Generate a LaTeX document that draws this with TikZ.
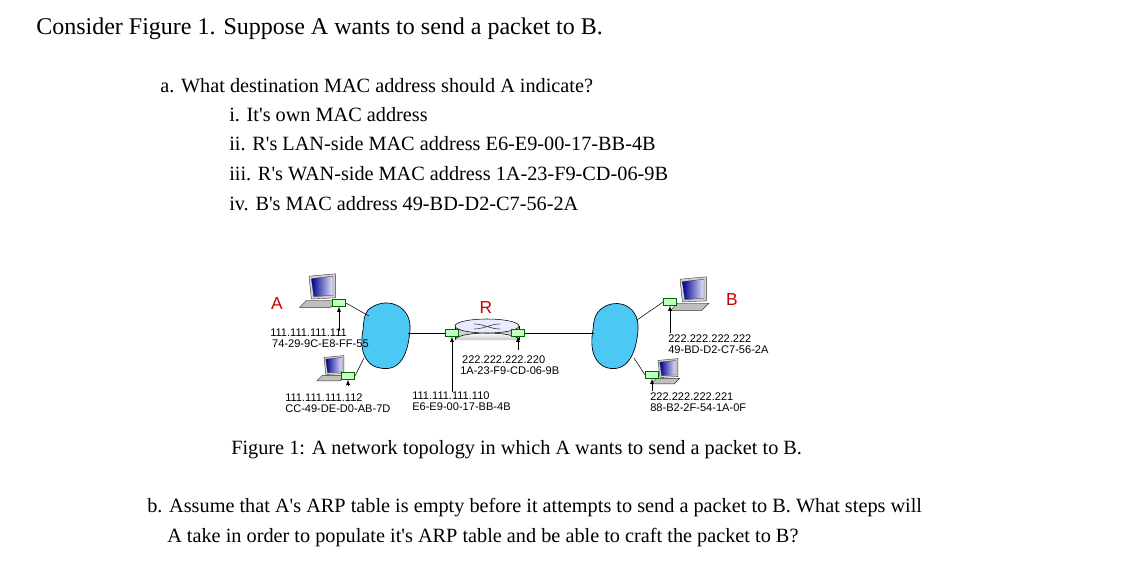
\documentclass[tikz,border=0pt]{standalone}
\usepackage{fontspec}
\setmainfont{Liberation Serif}
\newfontfamily\lab{Liberation Sans}
\newcommand{\ap}{\textquotesingle}
\definecolor{cloudc}{HTML}{4CC8F4}
\begin{document}
\begin{tikzpicture}[x=0.75pt,y=-0.75pt,
  txt/.style={anchor=west,inner sep=0pt,font=\fontsize{15.2}{17}\selectfont},
  small/.style={anchor=west,inner sep=0pt,font=\lab\fontsize{8.3}{8.6}\selectfont,align=left},
  cloud/.style={fill=cloudc,draw=black,line width=0.5pt},
  iface/.style={draw=green!40!black,fill=green!25,minimum width=10pt,minimum height=5pt,inner sep=0pt},
  lbl/.style={text=red!80!black,font=\lab\fontsize{13}{14}\selectfont},
  arr/.style={-latex,line width=0.4pt}]
\useasboundingbox (0,0) rectangle (1131,571);
\fill[white] (0,0) rectangle (1131,571);
\node[txt,font=\fontsize{18}{20}\selectfont] (t0) at (36,29) {Consider Figure 1. Suppose A wants to send a packet to B.};
\node[txt] (ta) at (160,86) {a. What destination MAC address should A indicate?};
\node[txt] (t1) at (229,115) {i. It\ap s own MAC address};
\node[txt] (t2) at (229,144) {ii. R\ap s LAN-side MAC address E6-E9-00-17-BB-4B};
\node[txt] (t3) at (229,174) {iii. R\ap s WAN-side MAC address 1A-23-F9-CD-06-9B};
\node[txt] (t4) at (229,204) {iv. B\ap s MAC address 49-BD-D2-C7-56-2A};
\node[txt] (cap) at (231,450) {Figure 1: A network topology in which A wants to send a packet to B.};
\node[txt] (tb) at (147,508) {b. Assume that A\ap s ARP table is empty before it attempts to send a packet to B. What steps will};
\node[txt] (tb2) at (167,538) {A take in order to populate it\ap s ARP table and be able to craft the packet to B?};
% clouds
\draw[cloud] (368,310) .. controls (385,295) and (412,305) .. (410,330) .. controls (408,355) and (400,372) .. (380,368) .. controls (362,365) and (360,345) .. (363,330) .. controls (364,320) and (364,315) .. (368,310) -- cycle;
\draw[cloud] (598,312) .. controls (612,296) and (640,303) .. (638,330) .. controls (636,356) and (626,372) .. (608,368) .. controls (592,364) and (590,345) .. (593,330) .. controls (594,320) and (594,318) .. (598,312) -- cycle;
% computers
\newcommand{\laptop}[3]{%
  \begin{scope}[shift={(#1,#2)},scale=#3]
  \fill[gray!50,draw=gray!40!black,line width=0.3pt] (-12,6) -- (14,6) -- (8,12) -- (-18,12) -- cycle;
  \fill[gray!35,draw=gray!40!black,line width=0.3pt] (-10,-14) -- (12,-16) -- (12,4) -- (-8,5) -- cycle;
  \shade[left color=blue!55!black,right color=blue!10,draw=gray!30!black,line width=0.2pt] (-8,-12) -- (10,-14) -- (10,2) -- (-6,3) -- cycle;
  \end{scope}}
\laptop{321}{293}{1.2}
\laptop{333}{370}{0.9}
\laptop{692}{296}{1.2}
\laptop{667}{373}{0.9}
% router
\fill[gray!35] (455,326) rectangle (519,340);
\draw[line width=0.4pt] (455,326) -- (455,340) (519,326) -- (519,340);
\draw[bottom color=gray!45,top color=white,line width=0.4pt] (455,340) arc[start angle=180,end angle=360,x radius=32,y radius=7];
\draw[fill=blue!8,line width=0.4pt] (487,326) ellipse[x radius=32,y radius=7];
\draw[gray!60!black,line width=0.5pt] (474,324) .. controls (484,324) and (490,329) .. (500,329) (474,329) .. controls (484,329) and (490,324) .. (500,324);
\node[lbl] (Rl) at (486,308) {R};
\node[lbl] (Al) at (277,304) {A};
\node[lbl] (Bl) at (732,300) {B};
% interfaces
\node[iface] (iA) at (339,303) {};
\node[iface] (iA2) at (348,376) {};
\node[iface] (iRL) at (452,333) {};
\node[iface] (iRR) at (518,333) {};
\node[iface] (iB) at (670,302) {};
\node[iface] (iB2) at (652,375) {};
% links
\draw[line width=0.4pt] (iA.east) -- (369,316);
\draw[line width=0.4pt] (iA2.east) -- (364,358);
\draw[line width=0.4pt] (408,333) -- (iRL.west);
\draw[line width=0.4pt] (iRR.east) -- (594,333);
\draw[line width=0.4pt] (iB.west) -- (637,320);
\draw[line width=0.4pt] (iB2.west) -- (634,358);
% labels
\node[small] (lA) at (270,338) {111.111.111.111\\\,74-29-9C-E8-FF-55};
\node[small] (lA2) at (285,403) {111.111.111.112\\CC-49-DE-D0-AB-7D};
\node[small] (lRL) at (412,401) {111.111.111.110\\E6-E9-00-17-BB-4B};
\node[small] (lRR) at (460,365) {\,222.222.222.220\\1A-23-F9-CD-06-9B};
\node[small] (lB) at (668,344) {222.222.222.222\\49-BD-D2-C7-56-2A};
\node[small] (lB2) at (650,402) {222.222.222.221\\88-B2-2F-54-1A-0F};
\coordinate (aA) at (339,331);
\coordinate (aA2) at (348,386);
\coordinate (aRL) at (452,392);
\coordinate (aRR) at (518,350);
\coordinate (aB) at (670,333);
\coordinate (aB2) at (652,391);
\draw[arr] (aA) -- (iA.south);
\draw[arr] (aA2) -- (iA2.south);
\draw[arr] (aRL) -- (iRL.south);
\draw[arr] (aRR) -- (iRR.south);
\draw[arr] (aB) -- (iB.south);
\draw[arr] (aB2) -- (iB2.south);
\end{tikzpicture}
\end{document}
